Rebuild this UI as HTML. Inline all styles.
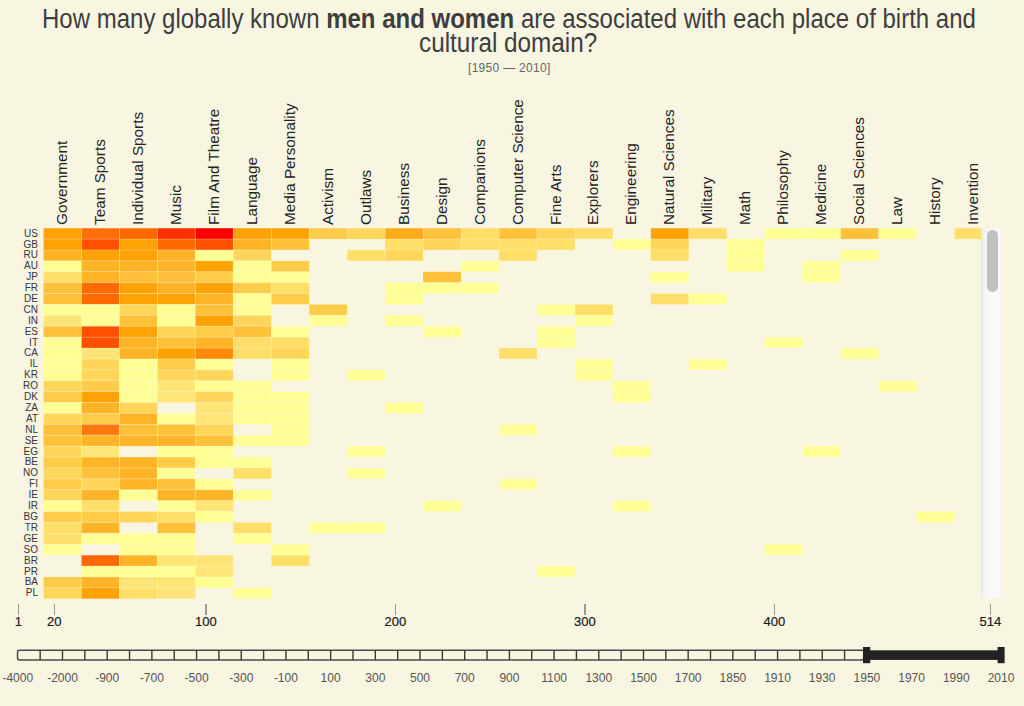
<!DOCTYPE html>
<html><head><meta charset="utf-8"><style>
html,body{margin:0;padding:0;width:1024px;height:706px;overflow:hidden;background:#f8f5e1;}
body{position:relative;font-family:"Liberation Sans",sans-serif;color:#333;}
.t{position:absolute;white-space:nowrap;}
.cl{position:absolute;white-space:nowrap;font-size:15.3px;color:#222;transform-origin:0 0;transform:rotate(-90deg);}
.rl{position:absolute;right:0;font-size:10px;color:#343446;text-align:right;width:30px;}
.c{position:absolute;height:10.90px;}
.tk{position:absolute;width:1.6px;height:10.5px;background:#9a9a96;top:604.3px;}
.al{position:absolute;font-size:13px;color:#1a1a1a;-webkit-text-stroke:0.2px #1a1a1a;text-align:center;width:40px;top:614px;}
.sl{position:absolute;font-size:12px;color:#555;text-align:center;width:50px;top:671px;}
.dv{position:absolute;width:1.5px;background:#555;top:650px;height:10px;}
</style></head><body>

<div class="t" id="t1" style="left:42px;top:3.5px;font-size:27px;color:#3e3e3e;transform-origin:0 0;transform:scaleX(0.889);">How many globally known <b>men and women</b> are associated with each place of birth and</div>
<div class="t" id="t2" style="left:419px;top:28px;font-size:27px;color:#3e3e3e;transform-origin:0 0;transform:scaleX(0.9);">cultural domain?</div>
<div class="t" id="t3" style="left:468px;top:61px;font-size:12px;color:#666;letter-spacing:0.3px;">[1950 &mdash; 2010]</div>
<div class="cl" style="left:53.0px;top:224.5px;">Government</div>
<div class="cl" style="left:90.9px;top:224.5px;">Team Sports</div>
<div class="cl" style="left:128.9px;top:224.5px;">Individual Sports</div>
<div class="cl" style="left:166.9px;top:224.5px;">Music</div>
<div class="cl" style="left:204.8px;top:224.5px;">Film And Theatre</div>
<div class="cl" style="left:242.8px;top:224.5px;">Language</div>
<div class="cl" style="left:280.7px;top:224.5px;">Media Personality</div>
<div class="cl" style="left:318.7px;top:224.5px;">Activism</div>
<div class="cl" style="left:356.7px;top:224.5px;">Outlaws</div>
<div class="cl" style="left:394.6px;top:224.5px;">Business</div>
<div class="cl" style="left:432.6px;top:224.5px;">Design</div>
<div class="cl" style="left:470.5px;top:224.5px;">Companions</div>
<div class="cl" style="left:508.5px;top:224.5px;">Computer Science</div>
<div class="cl" style="left:546.5px;top:224.5px;">Fine Arts</div>
<div class="cl" style="left:584.4px;top:224.5px;">Explorers</div>
<div class="cl" style="left:622.4px;top:224.5px;">Engineering</div>
<div class="cl" style="left:660.3px;top:224.5px;">Natural Sciences</div>
<div class="cl" style="left:698.3px;top:224.5px;">Military</div>
<div class="cl" style="left:736.3px;top:224.5px;">Math</div>
<div class="cl" style="left:774.2px;top:224.5px;">Philosophy</div>
<div class="cl" style="left:812.2px;top:224.5px;">Medicine</div>
<div class="cl" style="left:850.1px;top:224.5px;">Social Sciences</div>
<div class="cl" style="left:888.1px;top:224.5px;">Law</div>
<div class="cl" style="left:926.1px;top:224.5px;">History</div>
<div class="cl" style="left:964.0px;top:224.5px;">Invention</div>
<div style="position:absolute;left:0;top:0;width:38px;height:706px;">
<div class="rl" style="top:228.6px;line-height:10.9px;">US</div>
<div class="rl" style="top:239.5px;line-height:10.9px;">GB</div>
<div class="rl" style="top:250.4px;line-height:10.9px;">RU</div>
<div class="rl" style="top:261.2px;line-height:10.9px;">AU</div>
<div class="rl" style="top:272.1px;line-height:10.9px;">JP</div>
<div class="rl" style="top:283.0px;line-height:10.9px;">FR</div>
<div class="rl" style="top:293.9px;line-height:10.9px;">DE</div>
<div class="rl" style="top:304.8px;line-height:10.9px;">CN</div>
<div class="rl" style="top:315.8px;line-height:10.9px;">IN</div>
<div class="rl" style="top:326.6px;line-height:10.9px;">ES</div>
<div class="rl" style="top:337.5px;line-height:10.9px;">IT</div>
<div class="rl" style="top:348.4px;line-height:10.9px;">CA</div>
<div class="rl" style="top:359.4px;line-height:10.9px;">IL</div>
<div class="rl" style="top:370.2px;line-height:10.9px;">KR</div>
<div class="rl" style="top:381.1px;line-height:10.9px;">RO</div>
<div class="rl" style="top:392.0px;line-height:10.9px;">DK</div>
<div class="rl" style="top:402.9px;line-height:10.9px;">ZA</div>
<div class="rl" style="top:413.9px;line-height:10.9px;">AT</div>
<div class="rl" style="top:424.8px;line-height:10.9px;">NL</div>
<div class="rl" style="top:435.6px;line-height:10.9px;">SE</div>
<div class="rl" style="top:446.5px;line-height:10.9px;">EG</div>
<div class="rl" style="top:457.4px;line-height:10.9px;">BE</div>
<div class="rl" style="top:468.4px;line-height:10.9px;">NO</div>
<div class="rl" style="top:479.2px;line-height:10.9px;">FI</div>
<div class="rl" style="top:490.1px;line-height:10.9px;">IE</div>
<div class="rl" style="top:501.0px;line-height:10.9px;">IR</div>
<div class="rl" style="top:512.0px;line-height:10.9px;">BG</div>
<div class="rl" style="top:522.9px;line-height:10.9px;">TR</div>
<div class="rl" style="top:533.8px;line-height:10.9px;">GE</div>
<div class="rl" style="top:544.6px;line-height:10.9px;">SO</div>
<div class="rl" style="top:555.5px;line-height:10.9px;">BR</div>
<div class="rl" style="top:566.5px;line-height:10.9px;">PR</div>
<div class="rl" style="top:577.4px;line-height:10.9px;">BA</div>
<div class="rl" style="top:588.2px;line-height:10.9px;">PL</div>
</div>
<svg style="position:absolute;left:0;top:0;" width="982" height="600" viewBox="0 0 982 600"><rect x="43.50" y="228.15" width="37.96" height="10.90" fill="#ffa206"/><rect x="81.46" y="228.15" width="37.96" height="10.90" fill="#ff6e0a"/><rect x="119.42" y="228.15" width="37.96" height="10.90" fill="#ff6a00"/><rect x="157.38" y="228.15" width="37.96" height="10.90" fill="#ff3000"/><rect x="195.34" y="228.15" width="37.96" height="10.90" fill="#ff0000"/><rect x="233.30" y="228.15" width="37.96" height="10.90" fill="#ffa206"/><rect x="271.26" y="228.15" width="37.96" height="10.90" fill="#ffa206"/><rect x="309.22" y="228.15" width="37.96" height="10.90" fill="#ffcc4a"/><rect x="347.18" y="228.15" width="37.96" height="10.90" fill="#ffd65a"/><rect x="385.14" y="228.15" width="37.96" height="10.90" fill="#ffab1a"/><rect x="423.10" y="228.15" width="37.96" height="10.90" fill="#ffc03a"/><rect x="461.06" y="228.15" width="37.96" height="10.90" fill="#ffdf68"/><rect x="499.02" y="228.15" width="37.96" height="10.90" fill="#ffc03a"/><rect x="536.98" y="228.15" width="37.96" height="10.90" fill="#ffd65a"/><rect x="574.94" y="228.15" width="37.96" height="10.90" fill="#ffdf68"/><rect x="650.86" y="228.15" width="37.96" height="10.90" fill="#ffa206"/><rect x="688.82" y="228.15" width="37.96" height="10.90" fill="#ffdf68"/><rect x="764.74" y="228.15" width="37.96" height="10.90" fill="#ffff96"/><rect x="802.70" y="228.15" width="37.96" height="10.90" fill="#ffff96"/><rect x="840.66" y="228.15" width="37.96" height="10.90" fill="#ffc03a"/><rect x="878.62" y="228.15" width="37.96" height="10.90" fill="#ffff96"/><rect x="954.54" y="228.15" width="26.76" height="10.90" fill="#ffdf68"/><rect x="43.50" y="239.05" width="37.96" height="10.90" fill="#ffa206"/><rect x="81.46" y="239.05" width="37.96" height="10.90" fill="#ff5000"/><rect x="119.42" y="239.05" width="37.96" height="10.90" fill="#ffa206"/><rect x="157.38" y="239.05" width="37.96" height="10.90" fill="#ff6a00"/><rect x="195.34" y="239.05" width="37.96" height="10.90" fill="#ff5000"/><rect x="233.30" y="239.05" width="37.96" height="10.90" fill="#ffb428"/><rect x="271.26" y="239.05" width="37.96" height="10.90" fill="#ffc03a"/><rect x="385.14" y="239.05" width="37.96" height="10.90" fill="#ffdf68"/><rect x="423.10" y="239.05" width="37.96" height="10.90" fill="#ffd65a"/><rect x="461.06" y="239.05" width="37.96" height="10.90" fill="#ffdf68"/><rect x="499.02" y="239.05" width="37.96" height="10.90" fill="#ffdf68"/><rect x="536.98" y="239.05" width="37.96" height="10.90" fill="#ffdf68"/><rect x="612.90" y="239.05" width="37.96" height="10.90" fill="#ffff96"/><rect x="650.86" y="239.05" width="37.96" height="10.90" fill="#ffd65a"/><rect x="726.78" y="239.05" width="37.96" height="10.90" fill="#ffff96"/><rect x="43.50" y="249.95" width="37.96" height="10.90" fill="#ffb428"/><rect x="81.46" y="249.95" width="37.96" height="10.90" fill="#ffa206"/><rect x="119.42" y="249.95" width="37.96" height="10.90" fill="#ffa206"/><rect x="157.38" y="249.95" width="37.96" height="10.90" fill="#ffb428"/><rect x="195.34" y="249.95" width="37.96" height="10.90" fill="#ffff96"/><rect x="233.30" y="249.95" width="37.96" height="10.90" fill="#ffd65a"/><rect x="347.18" y="249.95" width="37.96" height="10.90" fill="#ffdf68"/><rect x="385.14" y="249.95" width="37.96" height="10.90" fill="#ffd65a"/><rect x="499.02" y="249.95" width="37.96" height="10.90" fill="#ffdf68"/><rect x="650.86" y="249.95" width="37.96" height="10.90" fill="#ffdf68"/><rect x="726.78" y="249.95" width="37.96" height="10.90" fill="#ffff96"/><rect x="840.66" y="249.95" width="37.96" height="10.90" fill="#ffff96"/><rect x="43.50" y="260.85" width="37.96" height="10.90" fill="#ffff96"/><rect x="81.46" y="260.85" width="37.96" height="10.90" fill="#ffb428"/><rect x="119.42" y="260.85" width="37.96" height="10.90" fill="#ffb428"/><rect x="157.38" y="260.85" width="37.96" height="10.90" fill="#ffb428"/><rect x="195.34" y="260.85" width="37.96" height="10.90" fill="#ffa206"/><rect x="233.30" y="260.85" width="37.96" height="10.90" fill="#ffff96"/><rect x="271.26" y="260.85" width="37.96" height="10.90" fill="#ffcc4a"/><rect x="461.06" y="260.85" width="37.96" height="10.90" fill="#ffff96"/><rect x="726.78" y="260.85" width="37.96" height="10.90" fill="#ffff96"/><rect x="802.70" y="260.85" width="37.96" height="10.90" fill="#ffff96"/><rect x="43.50" y="271.75" width="37.96" height="10.90" fill="#ffdf68"/><rect x="81.46" y="271.75" width="37.96" height="10.90" fill="#ffb428"/><rect x="119.42" y="271.75" width="37.96" height="10.90" fill="#ffc03a"/><rect x="157.38" y="271.75" width="37.96" height="10.90" fill="#ffc03a"/><rect x="195.34" y="271.75" width="37.96" height="10.90" fill="#ffcc4a"/><rect x="233.30" y="271.75" width="37.96" height="10.90" fill="#ffff96"/><rect x="271.26" y="271.75" width="37.96" height="10.90" fill="#ffff96"/><rect x="423.10" y="271.75" width="37.96" height="10.90" fill="#ffc03a"/><rect x="650.86" y="271.75" width="37.96" height="10.90" fill="#ffff96"/><rect x="802.70" y="271.75" width="37.96" height="10.90" fill="#ffff96"/><rect x="43.50" y="282.65" width="37.96" height="10.90" fill="#ffc03a"/><rect x="81.46" y="282.65" width="37.96" height="10.90" fill="#ff6a00"/><rect x="119.42" y="282.65" width="37.96" height="10.90" fill="#ffa206"/><rect x="157.38" y="282.65" width="37.96" height="10.90" fill="#ffb428"/><rect x="195.34" y="282.65" width="37.96" height="10.90" fill="#ffa206"/><rect x="233.30" y="282.65" width="37.96" height="10.90" fill="#ffcc4a"/><rect x="271.26" y="282.65" width="37.96" height="10.90" fill="#ffdf68"/><rect x="385.14" y="282.65" width="37.96" height="10.90" fill="#ffff96"/><rect x="423.10" y="282.65" width="37.96" height="10.90" fill="#ffff96"/><rect x="461.06" y="282.65" width="37.96" height="10.90" fill="#ffff96"/><rect x="43.50" y="293.55" width="37.96" height="10.90" fill="#ffc03a"/><rect x="81.46" y="293.55" width="37.96" height="10.90" fill="#ff6a00"/><rect x="119.42" y="293.55" width="37.96" height="10.90" fill="#ffa206"/><rect x="157.38" y="293.55" width="37.96" height="10.90" fill="#ffa206"/><rect x="195.34" y="293.55" width="37.96" height="10.90" fill="#ffb428"/><rect x="233.30" y="293.55" width="37.96" height="10.90" fill="#ffff96"/><rect x="271.26" y="293.55" width="37.96" height="10.90" fill="#ffcc4a"/><rect x="385.14" y="293.55" width="37.96" height="10.90" fill="#ffff96"/><rect x="650.86" y="293.55" width="37.96" height="10.90" fill="#ffdf68"/><rect x="688.82" y="293.55" width="37.96" height="10.90" fill="#ffff96"/><rect x="43.50" y="304.45" width="37.96" height="10.90" fill="#ffff96"/><rect x="81.46" y="304.45" width="37.96" height="10.90" fill="#ffff96"/><rect x="119.42" y="304.45" width="37.96" height="10.90" fill="#ffd65a"/><rect x="157.38" y="304.45" width="37.96" height="10.90" fill="#ffff96"/><rect x="195.34" y="304.45" width="37.96" height="10.90" fill="#ffc03a"/><rect x="233.30" y="304.45" width="37.96" height="10.90" fill="#ffff96"/><rect x="309.22" y="304.45" width="37.96" height="10.90" fill="#ffcc4a"/><rect x="536.98" y="304.45" width="37.96" height="10.90" fill="#ffff96"/><rect x="574.94" y="304.45" width="37.96" height="10.90" fill="#ffdf68"/><rect x="43.50" y="315.35" width="37.96" height="10.90" fill="#ffe577"/><rect x="81.46" y="315.35" width="37.96" height="10.90" fill="#ffff96"/><rect x="119.42" y="315.35" width="37.96" height="10.90" fill="#ffc03a"/><rect x="157.38" y="315.35" width="37.96" height="10.90" fill="#ffff96"/><rect x="195.34" y="315.35" width="37.96" height="10.90" fill="#ffa206"/><rect x="233.30" y="315.35" width="37.96" height="10.90" fill="#ffd65a"/><rect x="309.22" y="315.35" width="37.96" height="10.90" fill="#ffff96"/><rect x="385.14" y="315.35" width="37.96" height="10.90" fill="#ffff96"/><rect x="574.94" y="315.35" width="37.96" height="10.90" fill="#ffff96"/><rect x="43.50" y="326.25" width="37.96" height="10.90" fill="#ffc03a"/><rect x="81.46" y="326.25" width="37.96" height="10.90" fill="#ff5000"/><rect x="119.42" y="326.25" width="37.96" height="10.90" fill="#ffa206"/><rect x="157.38" y="326.25" width="37.96" height="10.90" fill="#ffd65a"/><rect x="195.34" y="326.25" width="37.96" height="10.90" fill="#ffcc4a"/><rect x="233.30" y="326.25" width="37.96" height="10.90" fill="#ffc03a"/><rect x="271.26" y="326.25" width="37.96" height="10.90" fill="#ffff96"/><rect x="423.10" y="326.25" width="37.96" height="10.90" fill="#ffff96"/><rect x="536.98" y="326.25" width="37.96" height="10.90" fill="#ffff96"/><rect x="43.50" y="337.15" width="37.96" height="10.90" fill="#ffff96"/><rect x="81.46" y="337.15" width="37.96" height="10.90" fill="#ff5000"/><rect x="119.42" y="337.15" width="37.96" height="10.90" fill="#ffb428"/><rect x="157.38" y="337.15" width="37.96" height="10.90" fill="#ffc03a"/><rect x="195.34" y="337.15" width="37.96" height="10.90" fill="#ffb428"/><rect x="233.30" y="337.15" width="37.96" height="10.90" fill="#ffdf68"/><rect x="271.26" y="337.15" width="37.96" height="10.90" fill="#ffdf68"/><rect x="536.98" y="337.15" width="37.96" height="10.90" fill="#ffff96"/><rect x="764.74" y="337.15" width="37.96" height="10.90" fill="#ffff96"/><rect x="43.50" y="348.05" width="37.96" height="10.90" fill="#ffff96"/><rect x="81.46" y="348.05" width="37.96" height="10.90" fill="#ffe577"/><rect x="119.42" y="348.05" width="37.96" height="10.90" fill="#ffb428"/><rect x="157.38" y="348.05" width="37.96" height="10.90" fill="#ffa206"/><rect x="195.34" y="348.05" width="37.96" height="10.90" fill="#ff8a0a"/><rect x="233.30" y="348.05" width="37.96" height="10.90" fill="#ffdf68"/><rect x="271.26" y="348.05" width="37.96" height="10.90" fill="#ffd65a"/><rect x="499.02" y="348.05" width="37.96" height="10.90" fill="#ffdf68"/><rect x="840.66" y="348.05" width="37.96" height="10.90" fill="#ffff96"/><rect x="43.50" y="358.95" width="37.96" height="10.90" fill="#ffff96"/><rect x="81.46" y="358.95" width="37.96" height="10.90" fill="#ffd65a"/><rect x="119.42" y="358.95" width="37.96" height="10.90" fill="#ffff96"/><rect x="157.38" y="358.95" width="37.96" height="10.90" fill="#ffcc4a"/><rect x="195.34" y="358.95" width="37.96" height="10.90" fill="#ffff96"/><rect x="271.26" y="358.95" width="37.96" height="10.90" fill="#ffff96"/><rect x="574.94" y="358.95" width="37.96" height="10.90" fill="#ffff96"/><rect x="688.82" y="358.95" width="37.96" height="10.90" fill="#ffff96"/><rect x="43.50" y="369.85" width="37.96" height="10.90" fill="#ffff96"/><rect x="81.46" y="369.85" width="37.96" height="10.90" fill="#ffd65a"/><rect x="119.42" y="369.85" width="37.96" height="10.90" fill="#ffff96"/><rect x="157.38" y="369.85" width="37.96" height="10.90" fill="#ffd65a"/><rect x="195.34" y="369.85" width="37.96" height="10.90" fill="#ffd65a"/><rect x="271.26" y="369.85" width="37.96" height="10.90" fill="#ffff96"/><rect x="347.18" y="369.85" width="37.96" height="10.90" fill="#ffff96"/><rect x="574.94" y="369.85" width="37.96" height="10.90" fill="#ffff96"/><rect x="43.50" y="380.75" width="37.96" height="10.90" fill="#ffd65a"/><rect x="81.46" y="380.75" width="37.96" height="10.90" fill="#ffcc4a"/><rect x="119.42" y="380.75" width="37.96" height="10.90" fill="#ffff96"/><rect x="157.38" y="380.75" width="37.96" height="10.90" fill="#ffe577"/><rect x="195.34" y="380.75" width="37.96" height="10.90" fill="#ffff96"/><rect x="233.30" y="380.75" width="37.96" height="10.90" fill="#ffff96"/><rect x="612.90" y="380.75" width="37.96" height="10.90" fill="#ffff96"/><rect x="878.62" y="380.75" width="37.96" height="10.90" fill="#ffff96"/><rect x="43.50" y="391.65" width="37.96" height="10.90" fill="#ffcc4a"/><rect x="81.46" y="391.65" width="37.96" height="10.90" fill="#ffa206"/><rect x="119.42" y="391.65" width="37.96" height="10.90" fill="#ffff96"/><rect x="157.38" y="391.65" width="37.96" height="10.90" fill="#ffe577"/><rect x="195.34" y="391.65" width="37.96" height="10.90" fill="#ffd65a"/><rect x="233.30" y="391.65" width="37.96" height="10.90" fill="#ffff96"/><rect x="271.26" y="391.65" width="37.96" height="10.90" fill="#ffff96"/><rect x="612.90" y="391.65" width="37.96" height="10.90" fill="#ffff96"/><rect x="43.50" y="402.55" width="37.96" height="10.90" fill="#ffff96"/><rect x="81.46" y="402.55" width="37.96" height="10.90" fill="#ffb428"/><rect x="119.42" y="402.55" width="37.96" height="10.90" fill="#ffd65a"/><rect x="195.34" y="402.55" width="37.96" height="10.90" fill="#ffe577"/><rect x="233.30" y="402.55" width="37.96" height="10.90" fill="#ffff96"/><rect x="271.26" y="402.55" width="37.96" height="10.90" fill="#ffff96"/><rect x="385.14" y="402.55" width="37.96" height="10.90" fill="#ffff96"/><rect x="43.50" y="413.45" width="37.96" height="10.90" fill="#ffd65a"/><rect x="81.46" y="413.45" width="37.96" height="10.90" fill="#ffcc4a"/><rect x="119.42" y="413.45" width="37.96" height="10.90" fill="#ffb428"/><rect x="157.38" y="413.45" width="37.96" height="10.90" fill="#ffff96"/><rect x="195.34" y="413.45" width="37.96" height="10.90" fill="#ffe577"/><rect x="233.30" y="413.45" width="37.96" height="10.90" fill="#ffff96"/><rect x="271.26" y="413.45" width="37.96" height="10.90" fill="#ffff96"/><rect x="43.50" y="424.35" width="37.96" height="10.90" fill="#ffc03a"/><rect x="81.46" y="424.35" width="37.96" height="10.90" fill="#ff7810"/><rect x="119.42" y="424.35" width="37.96" height="10.90" fill="#ffc03a"/><rect x="157.38" y="424.35" width="37.96" height="10.90" fill="#ffc03a"/><rect x="195.34" y="424.35" width="37.96" height="10.90" fill="#ffd65a"/><rect x="271.26" y="424.35" width="37.96" height="10.90" fill="#ffff96"/><rect x="499.02" y="424.35" width="37.96" height="10.90" fill="#ffff96"/><rect x="43.50" y="435.25" width="37.96" height="10.90" fill="#ffc03a"/><rect x="81.46" y="435.25" width="37.96" height="10.90" fill="#ffb428"/><rect x="119.42" y="435.25" width="37.96" height="10.90" fill="#ffb428"/><rect x="157.38" y="435.25" width="37.96" height="10.90" fill="#ffb428"/><rect x="195.34" y="435.25" width="37.96" height="10.90" fill="#ffc03a"/><rect x="233.30" y="435.25" width="37.96" height="10.90" fill="#ffff96"/><rect x="271.26" y="435.25" width="37.96" height="10.90" fill="#ffff96"/><rect x="43.50" y="446.15" width="37.96" height="10.90" fill="#ffd65a"/><rect x="81.46" y="446.15" width="37.96" height="10.90" fill="#ffe577"/><rect x="157.38" y="446.15" width="37.96" height="10.90" fill="#ffff96"/><rect x="195.34" y="446.15" width="37.96" height="10.90" fill="#ffff96"/><rect x="347.18" y="446.15" width="37.96" height="10.90" fill="#ffff96"/><rect x="612.90" y="446.15" width="37.96" height="10.90" fill="#ffff96"/><rect x="802.70" y="446.15" width="37.96" height="10.90" fill="#ffff96"/><rect x="43.50" y="457.05" width="37.96" height="10.90" fill="#ffcc4a"/><rect x="81.46" y="457.05" width="37.96" height="10.90" fill="#ffb428"/><rect x="119.42" y="457.05" width="37.96" height="10.90" fill="#ffb428"/><rect x="157.38" y="457.05" width="37.96" height="10.90" fill="#ffcc4a"/><rect x="195.34" y="457.05" width="37.96" height="10.90" fill="#ffff96"/><rect x="233.30" y="457.05" width="37.96" height="10.90" fill="#ffff96"/><rect x="43.50" y="467.95" width="37.96" height="10.90" fill="#ffd65a"/><rect x="81.46" y="467.95" width="37.96" height="10.90" fill="#ffc03a"/><rect x="119.42" y="467.95" width="37.96" height="10.90" fill="#ffb428"/><rect x="157.38" y="467.95" width="37.96" height="10.90" fill="#ffff96"/><rect x="233.30" y="467.95" width="37.96" height="10.90" fill="#ffdf68"/><rect x="347.18" y="467.95" width="37.96" height="10.90" fill="#ffff96"/><rect x="43.50" y="478.85" width="37.96" height="10.90" fill="#ffcc4a"/><rect x="81.46" y="478.85" width="37.96" height="10.90" fill="#ffd65a"/><rect x="119.42" y="478.85" width="37.96" height="10.90" fill="#ffb428"/><rect x="157.38" y="478.85" width="37.96" height="10.90" fill="#ffc03a"/><rect x="195.34" y="478.85" width="37.96" height="10.90" fill="#ffff96"/><rect x="499.02" y="478.85" width="37.96" height="10.90" fill="#ffff96"/><rect x="43.50" y="489.75" width="37.96" height="10.90" fill="#ffd65a"/><rect x="81.46" y="489.75" width="37.96" height="10.90" fill="#ffb428"/><rect x="119.42" y="489.75" width="37.96" height="10.90" fill="#ffff96"/><rect x="157.38" y="489.75" width="37.96" height="10.90" fill="#ffb428"/><rect x="195.34" y="489.75" width="37.96" height="10.90" fill="#ffb428"/><rect x="233.30" y="489.75" width="37.96" height="10.90" fill="#ffff96"/><rect x="43.50" y="500.65" width="37.96" height="10.90" fill="#ffff96"/><rect x="81.46" y="500.65" width="37.96" height="10.90" fill="#ffdf68"/><rect x="157.38" y="500.65" width="37.96" height="10.90" fill="#ffff96"/><rect x="195.34" y="500.65" width="37.96" height="10.90" fill="#ffe577"/><rect x="423.10" y="500.65" width="37.96" height="10.90" fill="#ffff96"/><rect x="612.90" y="500.65" width="37.96" height="10.90" fill="#ffff96"/><rect x="43.50" y="511.55" width="37.96" height="10.90" fill="#ffcc4a"/><rect x="81.46" y="511.55" width="37.96" height="10.90" fill="#ffcc4a"/><rect x="119.42" y="511.55" width="37.96" height="10.90" fill="#ffd65a"/><rect x="157.38" y="511.55" width="37.96" height="10.90" fill="#ffdf68"/><rect x="195.34" y="511.55" width="37.96" height="10.90" fill="#ffff96"/><rect x="916.58" y="511.55" width="37.96" height="10.90" fill="#ffff96"/><rect x="43.50" y="522.45" width="37.96" height="10.90" fill="#ffdf68"/><rect x="81.46" y="522.45" width="37.96" height="10.90" fill="#ffb428"/><rect x="157.38" y="522.45" width="37.96" height="10.90" fill="#ffc03a"/><rect x="233.30" y="522.45" width="37.96" height="10.90" fill="#ffdf68"/><rect x="309.22" y="522.45" width="37.96" height="10.90" fill="#ffff96"/><rect x="347.18" y="522.45" width="37.96" height="10.90" fill="#ffff96"/><rect x="43.50" y="533.35" width="37.96" height="10.90" fill="#ffdf68"/><rect x="81.46" y="533.35" width="37.96" height="10.90" fill="#ffff96"/><rect x="119.42" y="533.35" width="37.96" height="10.90" fill="#ffff96"/><rect x="157.38" y="533.35" width="37.96" height="10.90" fill="#ffff96"/><rect x="233.30" y="533.35" width="37.96" height="10.90" fill="#ffff96"/><rect x="43.50" y="544.25" width="37.96" height="10.90" fill="#ffff96"/><rect x="119.42" y="544.25" width="37.96" height="10.90" fill="#ffff96"/><rect x="157.38" y="544.25" width="37.96" height="10.90" fill="#ffff96"/><rect x="271.26" y="544.25" width="37.96" height="10.90" fill="#ffff96"/><rect x="764.74" y="544.25" width="37.96" height="10.90" fill="#ffff96"/><rect x="81.46" y="555.15" width="37.96" height="10.90" fill="#ff6a00"/><rect x="119.42" y="555.15" width="37.96" height="10.90" fill="#ffb428"/><rect x="157.38" y="555.15" width="37.96" height="10.90" fill="#ffe577"/><rect x="195.34" y="555.15" width="37.96" height="10.90" fill="#ffe577"/><rect x="271.26" y="555.15" width="37.96" height="10.90" fill="#ffdf68"/><rect x="81.46" y="566.05" width="37.96" height="10.90" fill="#ffff96"/><rect x="119.42" y="566.05" width="37.96" height="10.90" fill="#ffff96"/><rect x="157.38" y="566.05" width="37.96" height="10.90" fill="#ffff96"/><rect x="195.34" y="566.05" width="37.96" height="10.90" fill="#ffe577"/><rect x="536.98" y="566.05" width="37.96" height="10.90" fill="#ffff96"/><rect x="43.50" y="576.95" width="37.96" height="10.90" fill="#ffcc4a"/><rect x="81.46" y="576.95" width="37.96" height="10.90" fill="#ffb428"/><rect x="119.42" y="576.95" width="37.96" height="10.90" fill="#ffe577"/><rect x="157.38" y="576.95" width="37.96" height="10.90" fill="#ffe577"/><rect x="195.34" y="576.95" width="37.96" height="10.90" fill="#ffff96"/><rect x="43.50" y="587.85" width="37.96" height="10.90" fill="#ffd65a"/><rect x="81.46" y="587.85" width="37.96" height="10.90" fill="#ffa206"/><rect x="119.42" y="587.85" width="37.96" height="10.90" fill="#ffdf68"/><rect x="157.38" y="587.85" width="37.96" height="10.90" fill="#ffe577"/><rect x="233.30" y="587.85" width="37.96" height="10.90" fill="#ffff96"/><g fill="none" stroke="#fff" stroke-opacity="0.13" stroke-width="1"><rect x="43.50" y="228.15" width="37.96" height="10.90"/><rect x="81.46" y="228.15" width="37.96" height="10.90"/><rect x="119.42" y="228.15" width="37.96" height="10.90"/><rect x="157.38" y="228.15" width="37.96" height="10.90"/><rect x="195.34" y="228.15" width="37.96" height="10.90"/><rect x="233.30" y="228.15" width="37.96" height="10.90"/><rect x="271.26" y="228.15" width="37.96" height="10.90"/><rect x="309.22" y="228.15" width="37.96" height="10.90"/><rect x="347.18" y="228.15" width="37.96" height="10.90"/><rect x="385.14" y="228.15" width="37.96" height="10.90"/><rect x="423.10" y="228.15" width="37.96" height="10.90"/><rect x="461.06" y="228.15" width="37.96" height="10.90"/><rect x="499.02" y="228.15" width="37.96" height="10.90"/><rect x="536.98" y="228.15" width="37.96" height="10.90"/><rect x="574.94" y="228.15" width="37.96" height="10.90"/><rect x="650.86" y="228.15" width="37.96" height="10.90"/><rect x="688.82" y="228.15" width="37.96" height="10.90"/><rect x="764.74" y="228.15" width="37.96" height="10.90"/><rect x="802.70" y="228.15" width="37.96" height="10.90"/><rect x="840.66" y="228.15" width="37.96" height="10.90"/><rect x="878.62" y="228.15" width="37.96" height="10.90"/><rect x="954.54" y="228.15" width="26.76" height="10.90"/><rect x="43.50" y="239.05" width="37.96" height="10.90"/><rect x="81.46" y="239.05" width="37.96" height="10.90"/><rect x="119.42" y="239.05" width="37.96" height="10.90"/><rect x="157.38" y="239.05" width="37.96" height="10.90"/><rect x="195.34" y="239.05" width="37.96" height="10.90"/><rect x="233.30" y="239.05" width="37.96" height="10.90"/><rect x="271.26" y="239.05" width="37.96" height="10.90"/><rect x="385.14" y="239.05" width="37.96" height="10.90"/><rect x="423.10" y="239.05" width="37.96" height="10.90"/><rect x="461.06" y="239.05" width="37.96" height="10.90"/><rect x="499.02" y="239.05" width="37.96" height="10.90"/><rect x="536.98" y="239.05" width="37.96" height="10.90"/><rect x="612.90" y="239.05" width="37.96" height="10.90"/><rect x="650.86" y="239.05" width="37.96" height="10.90"/><rect x="726.78" y="239.05" width="37.96" height="10.90"/><rect x="43.50" y="249.95" width="37.96" height="10.90"/><rect x="81.46" y="249.95" width="37.96" height="10.90"/><rect x="119.42" y="249.95" width="37.96" height="10.90"/><rect x="157.38" y="249.95" width="37.96" height="10.90"/><rect x="195.34" y="249.95" width="37.96" height="10.90"/><rect x="233.30" y="249.95" width="37.96" height="10.90"/><rect x="347.18" y="249.95" width="37.96" height="10.90"/><rect x="385.14" y="249.95" width="37.96" height="10.90"/><rect x="499.02" y="249.95" width="37.96" height="10.90"/><rect x="650.86" y="249.95" width="37.96" height="10.90"/><rect x="726.78" y="249.95" width="37.96" height="10.90"/><rect x="840.66" y="249.95" width="37.96" height="10.90"/><rect x="43.50" y="260.85" width="37.96" height="10.90"/><rect x="81.46" y="260.85" width="37.96" height="10.90"/><rect x="119.42" y="260.85" width="37.96" height="10.90"/><rect x="157.38" y="260.85" width="37.96" height="10.90"/><rect x="195.34" y="260.85" width="37.96" height="10.90"/><rect x="233.30" y="260.85" width="37.96" height="10.90"/><rect x="271.26" y="260.85" width="37.96" height="10.90"/><rect x="461.06" y="260.85" width="37.96" height="10.90"/><rect x="726.78" y="260.85" width="37.96" height="10.90"/><rect x="802.70" y="260.85" width="37.96" height="10.90"/><rect x="43.50" y="271.75" width="37.96" height="10.90"/><rect x="81.46" y="271.75" width="37.96" height="10.90"/><rect x="119.42" y="271.75" width="37.96" height="10.90"/><rect x="157.38" y="271.75" width="37.96" height="10.90"/><rect x="195.34" y="271.75" width="37.96" height="10.90"/><rect x="233.30" y="271.75" width="37.96" height="10.90"/><rect x="271.26" y="271.75" width="37.96" height="10.90"/><rect x="423.10" y="271.75" width="37.96" height="10.90"/><rect x="650.86" y="271.75" width="37.96" height="10.90"/><rect x="802.70" y="271.75" width="37.96" height="10.90"/><rect x="43.50" y="282.65" width="37.96" height="10.90"/><rect x="81.46" y="282.65" width="37.96" height="10.90"/><rect x="119.42" y="282.65" width="37.96" height="10.90"/><rect x="157.38" y="282.65" width="37.96" height="10.90"/><rect x="195.34" y="282.65" width="37.96" height="10.90"/><rect x="233.30" y="282.65" width="37.96" height="10.90"/><rect x="271.26" y="282.65" width="37.96" height="10.90"/><rect x="385.14" y="282.65" width="37.96" height="10.90"/><rect x="423.10" y="282.65" width="37.96" height="10.90"/><rect x="461.06" y="282.65" width="37.96" height="10.90"/><rect x="43.50" y="293.55" width="37.96" height="10.90"/><rect x="81.46" y="293.55" width="37.96" height="10.90"/><rect x="119.42" y="293.55" width="37.96" height="10.90"/><rect x="157.38" y="293.55" width="37.96" height="10.90"/><rect x="195.34" y="293.55" width="37.96" height="10.90"/><rect x="233.30" y="293.55" width="37.96" height="10.90"/><rect x="271.26" y="293.55" width="37.96" height="10.90"/><rect x="385.14" y="293.55" width="37.96" height="10.90"/><rect x="650.86" y="293.55" width="37.96" height="10.90"/><rect x="688.82" y="293.55" width="37.96" height="10.90"/><rect x="43.50" y="304.45" width="37.96" height="10.90"/><rect x="81.46" y="304.45" width="37.96" height="10.90"/><rect x="119.42" y="304.45" width="37.96" height="10.90"/><rect x="157.38" y="304.45" width="37.96" height="10.90"/><rect x="195.34" y="304.45" width="37.96" height="10.90"/><rect x="233.30" y="304.45" width="37.96" height="10.90"/><rect x="309.22" y="304.45" width="37.96" height="10.90"/><rect x="536.98" y="304.45" width="37.96" height="10.90"/><rect x="574.94" y="304.45" width="37.96" height="10.90"/><rect x="43.50" y="315.35" width="37.96" height="10.90"/><rect x="81.46" y="315.35" width="37.96" height="10.90"/><rect x="119.42" y="315.35" width="37.96" height="10.90"/><rect x="157.38" y="315.35" width="37.96" height="10.90"/><rect x="195.34" y="315.35" width="37.96" height="10.90"/><rect x="233.30" y="315.35" width="37.96" height="10.90"/><rect x="309.22" y="315.35" width="37.96" height="10.90"/><rect x="385.14" y="315.35" width="37.96" height="10.90"/><rect x="574.94" y="315.35" width="37.96" height="10.90"/><rect x="43.50" y="326.25" width="37.96" height="10.90"/><rect x="81.46" y="326.25" width="37.96" height="10.90"/><rect x="119.42" y="326.25" width="37.96" height="10.90"/><rect x="157.38" y="326.25" width="37.96" height="10.90"/><rect x="195.34" y="326.25" width="37.96" height="10.90"/><rect x="233.30" y="326.25" width="37.96" height="10.90"/><rect x="271.26" y="326.25" width="37.96" height="10.90"/><rect x="423.10" y="326.25" width="37.96" height="10.90"/><rect x="536.98" y="326.25" width="37.96" height="10.90"/><rect x="43.50" y="337.15" width="37.96" height="10.90"/><rect x="81.46" y="337.15" width="37.96" height="10.90"/><rect x="119.42" y="337.15" width="37.96" height="10.90"/><rect x="157.38" y="337.15" width="37.96" height="10.90"/><rect x="195.34" y="337.15" width="37.96" height="10.90"/><rect x="233.30" y="337.15" width="37.96" height="10.90"/><rect x="271.26" y="337.15" width="37.96" height="10.90"/><rect x="536.98" y="337.15" width="37.96" height="10.90"/><rect x="764.74" y="337.15" width="37.96" height="10.90"/><rect x="43.50" y="348.05" width="37.96" height="10.90"/><rect x="81.46" y="348.05" width="37.96" height="10.90"/><rect x="119.42" y="348.05" width="37.96" height="10.90"/><rect x="157.38" y="348.05" width="37.96" height="10.90"/><rect x="195.34" y="348.05" width="37.96" height="10.90"/><rect x="233.30" y="348.05" width="37.96" height="10.90"/><rect x="271.26" y="348.05" width="37.96" height="10.90"/><rect x="499.02" y="348.05" width="37.96" height="10.90"/><rect x="840.66" y="348.05" width="37.96" height="10.90"/><rect x="43.50" y="358.95" width="37.96" height="10.90"/><rect x="81.46" y="358.95" width="37.96" height="10.90"/><rect x="119.42" y="358.95" width="37.96" height="10.90"/><rect x="157.38" y="358.95" width="37.96" height="10.90"/><rect x="195.34" y="358.95" width="37.96" height="10.90"/><rect x="271.26" y="358.95" width="37.96" height="10.90"/><rect x="574.94" y="358.95" width="37.96" height="10.90"/><rect x="688.82" y="358.95" width="37.96" height="10.90"/><rect x="43.50" y="369.85" width="37.96" height="10.90"/><rect x="81.46" y="369.85" width="37.96" height="10.90"/><rect x="119.42" y="369.85" width="37.96" height="10.90"/><rect x="157.38" y="369.85" width="37.96" height="10.90"/><rect x="195.34" y="369.85" width="37.96" height="10.90"/><rect x="271.26" y="369.85" width="37.96" height="10.90"/><rect x="347.18" y="369.85" width="37.96" height="10.90"/><rect x="574.94" y="369.85" width="37.96" height="10.90"/><rect x="43.50" y="380.75" width="37.96" height="10.90"/><rect x="81.46" y="380.75" width="37.96" height="10.90"/><rect x="119.42" y="380.75" width="37.96" height="10.90"/><rect x="157.38" y="380.75" width="37.96" height="10.90"/><rect x="195.34" y="380.75" width="37.96" height="10.90"/><rect x="233.30" y="380.75" width="37.96" height="10.90"/><rect x="612.90" y="380.75" width="37.96" height="10.90"/><rect x="878.62" y="380.75" width="37.96" height="10.90"/><rect x="43.50" y="391.65" width="37.96" height="10.90"/><rect x="81.46" y="391.65" width="37.96" height="10.90"/><rect x="119.42" y="391.65" width="37.96" height="10.90"/><rect x="157.38" y="391.65" width="37.96" height="10.90"/><rect x="195.34" y="391.65" width="37.96" height="10.90"/><rect x="233.30" y="391.65" width="37.96" height="10.90"/><rect x="271.26" y="391.65" width="37.96" height="10.90"/><rect x="612.90" y="391.65" width="37.96" height="10.90"/><rect x="43.50" y="402.55" width="37.96" height="10.90"/><rect x="81.46" y="402.55" width="37.96" height="10.90"/><rect x="119.42" y="402.55" width="37.96" height="10.90"/><rect x="195.34" y="402.55" width="37.96" height="10.90"/><rect x="233.30" y="402.55" width="37.96" height="10.90"/><rect x="271.26" y="402.55" width="37.96" height="10.90"/><rect x="385.14" y="402.55" width="37.96" height="10.90"/><rect x="43.50" y="413.45" width="37.96" height="10.90"/><rect x="81.46" y="413.45" width="37.96" height="10.90"/><rect x="119.42" y="413.45" width="37.96" height="10.90"/><rect x="157.38" y="413.45" width="37.96" height="10.90"/><rect x="195.34" y="413.45" width="37.96" height="10.90"/><rect x="233.30" y="413.45" width="37.96" height="10.90"/><rect x="271.26" y="413.45" width="37.96" height="10.90"/><rect x="43.50" y="424.35" width="37.96" height="10.90"/><rect x="81.46" y="424.35" width="37.96" height="10.90"/><rect x="119.42" y="424.35" width="37.96" height="10.90"/><rect x="157.38" y="424.35" width="37.96" height="10.90"/><rect x="195.34" y="424.35" width="37.96" height="10.90"/><rect x="271.26" y="424.35" width="37.96" height="10.90"/><rect x="499.02" y="424.35" width="37.96" height="10.90"/><rect x="43.50" y="435.25" width="37.96" height="10.90"/><rect x="81.46" y="435.25" width="37.96" height="10.90"/><rect x="119.42" y="435.25" width="37.96" height="10.90"/><rect x="157.38" y="435.25" width="37.96" height="10.90"/><rect x="195.34" y="435.25" width="37.96" height="10.90"/><rect x="233.30" y="435.25" width="37.96" height="10.90"/><rect x="271.26" y="435.25" width="37.96" height="10.90"/><rect x="43.50" y="446.15" width="37.96" height="10.90"/><rect x="81.46" y="446.15" width="37.96" height="10.90"/><rect x="157.38" y="446.15" width="37.96" height="10.90"/><rect x="195.34" y="446.15" width="37.96" height="10.90"/><rect x="347.18" y="446.15" width="37.96" height="10.90"/><rect x="612.90" y="446.15" width="37.96" height="10.90"/><rect x="802.70" y="446.15" width="37.96" height="10.90"/><rect x="43.50" y="457.05" width="37.96" height="10.90"/><rect x="81.46" y="457.05" width="37.96" height="10.90"/><rect x="119.42" y="457.05" width="37.96" height="10.90"/><rect x="157.38" y="457.05" width="37.96" height="10.90"/><rect x="195.34" y="457.05" width="37.96" height="10.90"/><rect x="233.30" y="457.05" width="37.96" height="10.90"/><rect x="43.50" y="467.95" width="37.96" height="10.90"/><rect x="81.46" y="467.95" width="37.96" height="10.90"/><rect x="119.42" y="467.95" width="37.96" height="10.90"/><rect x="157.38" y="467.95" width="37.96" height="10.90"/><rect x="233.30" y="467.95" width="37.96" height="10.90"/><rect x="347.18" y="467.95" width="37.96" height="10.90"/><rect x="43.50" y="478.85" width="37.96" height="10.90"/><rect x="81.46" y="478.85" width="37.96" height="10.90"/><rect x="119.42" y="478.85" width="37.96" height="10.90"/><rect x="157.38" y="478.85" width="37.96" height="10.90"/><rect x="195.34" y="478.85" width="37.96" height="10.90"/><rect x="499.02" y="478.85" width="37.96" height="10.90"/><rect x="43.50" y="489.75" width="37.96" height="10.90"/><rect x="81.46" y="489.75" width="37.96" height="10.90"/><rect x="119.42" y="489.75" width="37.96" height="10.90"/><rect x="157.38" y="489.75" width="37.96" height="10.90"/><rect x="195.34" y="489.75" width="37.96" height="10.90"/><rect x="233.30" y="489.75" width="37.96" height="10.90"/><rect x="43.50" y="500.65" width="37.96" height="10.90"/><rect x="81.46" y="500.65" width="37.96" height="10.90"/><rect x="157.38" y="500.65" width="37.96" height="10.90"/><rect x="195.34" y="500.65" width="37.96" height="10.90"/><rect x="423.10" y="500.65" width="37.96" height="10.90"/><rect x="612.90" y="500.65" width="37.96" height="10.90"/><rect x="43.50" y="511.55" width="37.96" height="10.90"/><rect x="81.46" y="511.55" width="37.96" height="10.90"/><rect x="119.42" y="511.55" width="37.96" height="10.90"/><rect x="157.38" y="511.55" width="37.96" height="10.90"/><rect x="195.34" y="511.55" width="37.96" height="10.90"/><rect x="916.58" y="511.55" width="37.96" height="10.90"/><rect x="43.50" y="522.45" width="37.96" height="10.90"/><rect x="81.46" y="522.45" width="37.96" height="10.90"/><rect x="157.38" y="522.45" width="37.96" height="10.90"/><rect x="233.30" y="522.45" width="37.96" height="10.90"/><rect x="309.22" y="522.45" width="37.96" height="10.90"/><rect x="347.18" y="522.45" width="37.96" height="10.90"/><rect x="43.50" y="533.35" width="37.96" height="10.90"/><rect x="81.46" y="533.35" width="37.96" height="10.90"/><rect x="119.42" y="533.35" width="37.96" height="10.90"/><rect x="157.38" y="533.35" width="37.96" height="10.90"/><rect x="233.30" y="533.35" width="37.96" height="10.90"/><rect x="43.50" y="544.25" width="37.96" height="10.90"/><rect x="119.42" y="544.25" width="37.96" height="10.90"/><rect x="157.38" y="544.25" width="37.96" height="10.90"/><rect x="271.26" y="544.25" width="37.96" height="10.90"/><rect x="764.74" y="544.25" width="37.96" height="10.90"/><rect x="81.46" y="555.15" width="37.96" height="10.90"/><rect x="119.42" y="555.15" width="37.96" height="10.90"/><rect x="157.38" y="555.15" width="37.96" height="10.90"/><rect x="195.34" y="555.15" width="37.96" height="10.90"/><rect x="271.26" y="555.15" width="37.96" height="10.90"/><rect x="81.46" y="566.05" width="37.96" height="10.90"/><rect x="119.42" y="566.05" width="37.96" height="10.90"/><rect x="157.38" y="566.05" width="37.96" height="10.90"/><rect x="195.34" y="566.05" width="37.96" height="10.90"/><rect x="536.98" y="566.05" width="37.96" height="10.90"/><rect x="43.50" y="576.95" width="37.96" height="10.90"/><rect x="81.46" y="576.95" width="37.96" height="10.90"/><rect x="119.42" y="576.95" width="37.96" height="10.90"/><rect x="157.38" y="576.95" width="37.96" height="10.90"/><rect x="195.34" y="576.95" width="37.96" height="10.90"/><rect x="43.50" y="587.85" width="37.96" height="10.90"/><rect x="81.46" y="587.85" width="37.96" height="10.90"/><rect x="119.42" y="587.85" width="37.96" height="10.90"/><rect x="157.38" y="587.85" width="37.96" height="10.90"/><rect x="233.30" y="587.85" width="37.96" height="10.90"/></g></svg>
<div style="position:absolute;left:981px;top:228px;width:21px;height:370px;background:linear-gradient(to right,#e4e4e2 0px,#f0f0ef 2px,#f7f7f7 6px,#fafafa 18px,#f4f4f2 21px);"></div>
<div style="position:absolute;left:987px;top:230px;width:11px;height:62px;background:#c1c1c1;border-radius:6px;"></div>
<div class="tk" style="left:17.5px"></div>
<div class="al" style="left:-1.7px">1</div>
<div class="tk" style="left:53.5px"></div>
<div class="al" style="left:34.3px">20</div>
<div class="tk" style="left:205.1px"></div>
<div class="al" style="left:185.9px">100</div>
<div class="tk" style="left:394.5px"></div>
<div class="al" style="left:375.3px">200</div>
<div class="tk" style="left:584.0px"></div>
<div class="al" style="left:564.8px">300</div>
<div class="tk" style="left:773.5px"></div>
<div class="al" style="left:754.3px">400</div>
<div class="tk" style="left:989.5px"></div>
<div class="al" style="left:970.3px">514</div>
<svg style="position:absolute;left:0;top:640px;" width="1024" height="30" viewBox="0 640 1024 30"><rect x="17.55" y="650.3" width="846.20" height="9.6" rx="2" ry="2" fill="none" stroke="#4a4a4a" stroke-width="1.5"/><line x1="40.15" y1="650.3" x2="40.15" y2="659.9" stroke="#3a3a3a" stroke-width="1.4"/><line x1="62.49" y1="650.3" x2="62.49" y2="659.9" stroke="#3a3a3a" stroke-width="1.4"/><line x1="84.84" y1="650.3" x2="84.84" y2="659.9" stroke="#3a3a3a" stroke-width="1.4"/><line x1="107.18" y1="650.3" x2="107.18" y2="659.9" stroke="#3a3a3a" stroke-width="1.4"/><line x1="129.53" y1="650.3" x2="129.53" y2="659.9" stroke="#3a3a3a" stroke-width="1.4"/><line x1="151.87" y1="650.3" x2="151.87" y2="659.9" stroke="#3a3a3a" stroke-width="1.4"/><line x1="174.22" y1="650.3" x2="174.22" y2="659.9" stroke="#3a3a3a" stroke-width="1.4"/><line x1="196.56" y1="650.3" x2="196.56" y2="659.9" stroke="#3a3a3a" stroke-width="1.4"/><line x1="218.91" y1="650.3" x2="218.91" y2="659.9" stroke="#3a3a3a" stroke-width="1.4"/><line x1="241.25" y1="650.3" x2="241.25" y2="659.9" stroke="#3a3a3a" stroke-width="1.4"/><line x1="263.60" y1="650.3" x2="263.60" y2="659.9" stroke="#3a3a3a" stroke-width="1.4"/><line x1="285.95" y1="650.3" x2="285.95" y2="659.9" stroke="#3a3a3a" stroke-width="1.4"/><line x1="308.29" y1="650.3" x2="308.29" y2="659.9" stroke="#3a3a3a" stroke-width="1.4"/><line x1="330.64" y1="650.3" x2="330.64" y2="659.9" stroke="#3a3a3a" stroke-width="1.4"/><line x1="352.98" y1="650.3" x2="352.98" y2="659.9" stroke="#3a3a3a" stroke-width="1.4"/><line x1="375.33" y1="650.3" x2="375.33" y2="659.9" stroke="#3a3a3a" stroke-width="1.4"/><line x1="397.67" y1="650.3" x2="397.67" y2="659.9" stroke="#3a3a3a" stroke-width="1.4"/><line x1="420.02" y1="650.3" x2="420.02" y2="659.9" stroke="#3a3a3a" stroke-width="1.4"/><line x1="442.36" y1="650.3" x2="442.36" y2="659.9" stroke="#3a3a3a" stroke-width="1.4"/><line x1="464.71" y1="650.3" x2="464.71" y2="659.9" stroke="#3a3a3a" stroke-width="1.4"/><line x1="487.05" y1="650.3" x2="487.05" y2="659.9" stroke="#3a3a3a" stroke-width="1.4"/><line x1="509.40" y1="650.3" x2="509.40" y2="659.9" stroke="#3a3a3a" stroke-width="1.4"/><line x1="531.75" y1="650.3" x2="531.75" y2="659.9" stroke="#3a3a3a" stroke-width="1.4"/><line x1="554.09" y1="650.3" x2="554.09" y2="659.9" stroke="#3a3a3a" stroke-width="1.4"/><line x1="576.44" y1="650.3" x2="576.44" y2="659.9" stroke="#3a3a3a" stroke-width="1.4"/><line x1="598.78" y1="650.3" x2="598.78" y2="659.9" stroke="#3a3a3a" stroke-width="1.4"/><line x1="621.13" y1="650.3" x2="621.13" y2="659.9" stroke="#3a3a3a" stroke-width="1.4"/><line x1="643.47" y1="650.3" x2="643.47" y2="659.9" stroke="#3a3a3a" stroke-width="1.4"/><line x1="665.82" y1="650.3" x2="665.82" y2="659.9" stroke="#3a3a3a" stroke-width="1.4"/><line x1="688.16" y1="650.3" x2="688.16" y2="659.9" stroke="#3a3a3a" stroke-width="1.4"/><line x1="710.51" y1="650.3" x2="710.51" y2="659.9" stroke="#3a3a3a" stroke-width="1.4"/><line x1="732.85" y1="650.3" x2="732.85" y2="659.9" stroke="#3a3a3a" stroke-width="1.4"/><line x1="755.20" y1="650.3" x2="755.20" y2="659.9" stroke="#3a3a3a" stroke-width="1.4"/><line x1="777.55" y1="650.3" x2="777.55" y2="659.9" stroke="#3a3a3a" stroke-width="1.4"/><line x1="799.89" y1="650.3" x2="799.89" y2="659.9" stroke="#3a3a3a" stroke-width="1.4"/><line x1="822.24" y1="650.3" x2="822.24" y2="659.9" stroke="#3a3a3a" stroke-width="1.4"/><line x1="844.58" y1="650.3" x2="844.58" y2="659.9" stroke="#3a3a3a" stroke-width="1.4"/><rect x="863" y="650.3" width="141" height="9.6" fill="#222"/><rect x="863" y="647" width="7.2" height="16.2" fill="#222"/><rect x="997.6" y="647" width="7" height="16.2" fill="#222"/></svg>
<div class="sl" style="left:-7.2px">-4000</div>
<div class="sl" style="left:37.5px">-2000</div>
<div class="sl" style="left:82.2px">-900</div>
<div class="sl" style="left:126.9px">-700</div>
<div class="sl" style="left:171.6px">-500</div>
<div class="sl" style="left:216.3px">-300</div>
<div class="sl" style="left:260.9px">-100</div>
<div class="sl" style="left:305.6px">100</div>
<div class="sl" style="left:350.3px">300</div>
<div class="sl" style="left:395.0px">500</div>
<div class="sl" style="left:439.7px">700</div>
<div class="sl" style="left:484.4px">900</div>
<div class="sl" style="left:529.1px">1100</div>
<div class="sl" style="left:573.8px">1300</div>
<div class="sl" style="left:618.5px">1500</div>
<div class="sl" style="left:663.2px">1700</div>
<div class="sl" style="left:707.9px">1850</div>
<div class="sl" style="left:752.5px">1910</div>
<div class="sl" style="left:797.2px">1930</div>
<div class="sl" style="left:841.9px">1950</div>
<div class="sl" style="left:886.6px">1970</div>
<div class="sl" style="left:931.3px">1990</div>
<div class="sl" style="left:976.0px">2010</div>
</body></html>
